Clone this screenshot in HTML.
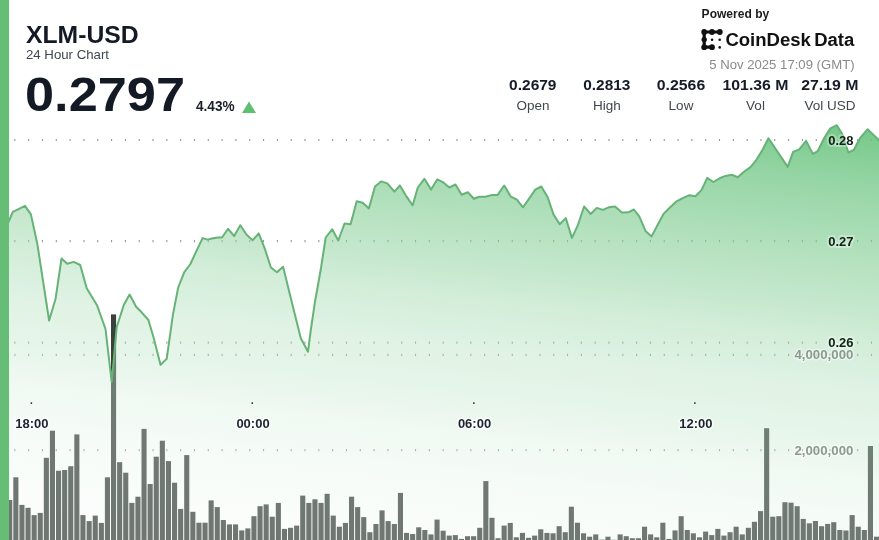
<!DOCTYPE html>
<html><head><meta charset="utf-8">
<style>
html,body{margin:0;padding:0;background:#fff;}
body{width:879px;height:540px;overflow:hidden;position:relative;font-family:"Liberation Sans",sans-serif;}
svg{position:absolute;left:0;top:0;display:block;will-change:transform;}
text{font-family:"Liberation Sans",sans-serif;}
</style></head>
<body>
<svg width="879" height="540" viewBox="0 0 879 540">
<defs>
<linearGradient id="g" gradientUnits="userSpaceOnUse" x1="840" y1="120" x2="787.2" y2="600"><stop offset="0" stop-color="rgb(92,190,115)" stop-opacity="0.86"/><stop offset="0.047" stop-color="rgb(92,190,115)" stop-opacity="0.78"/><stop offset="0.128" stop-color="rgb(92,190,115)" stop-opacity="0.644"/><stop offset="0.278" stop-color="rgb(92,190,115)" stop-opacity="0.466"/><stop offset="0.377" stop-color="rgb(92,190,115)" stop-opacity="0.362"/><stop offset="0.445" stop-color="rgb(92,190,115)" stop-opacity="0.28"/><stop offset="0.554" stop-color="rgb(92,190,115)" stop-opacity="0.19"/><stop offset="0.648" stop-color="rgb(92,190,115)" stop-opacity="0.15"/><stop offset="0.739" stop-color="rgb(92,190,115)" stop-opacity="0.086"/><stop offset="0.85" stop-color="rgb(92,190,115)" stop-opacity="0.05"/><stop offset="1.0" stop-color="rgb(92,190,115)" stop-opacity="0.02"/></linearGradient>
</defs>
<rect x="0" y="0" width="879" height="540" fill="#fff"/>
<g stroke="#979797" stroke-width="2.2" stroke-dasharray="1.1 12.717" fill="none"><line x1="14.3" y1="140" x2="879" y2="140"/><line x1="14.3" y1="241.2" x2="879" y2="241.2"/><line x1="14.3" y1="342.7" x2="879" y2="342.7"/><line x1="14.3" y1="354.8" x2="879" y2="354.8"/><line x1="14.3" y1="450.2" x2="879" y2="450.2"/></g>
<g fill="#3a403c"><rect x="7.2" y="500" width="5.1" height="41"/><rect x="13.3" y="477.3" width="5.1" height="63.7"/><rect x="19.4" y="504.9" width="5.1" height="36.1"/><rect x="25.5" y="507.8" width="5.1" height="33.2"/><rect x="31.6" y="515.1" width="5.1" height="25.9"/><rect x="37.7" y="512.9" width="5.1" height="28.1"/><rect x="43.8" y="457.8" width="5.1" height="83.2"/><rect x="49.9" y="430.7" width="5.1" height="110.3"/><rect x="56" y="470.7" width="5.1" height="70.3"/><rect x="62.1" y="470" width="5.1" height="71"/><rect x="68.2" y="466.2" width="5.1" height="74.8"/><rect x="74.3" y="434.4" width="5.1" height="106.6"/><rect x="80.4" y="515.1" width="5.1" height="25.9"/><rect x="86.6" y="521.1" width="5.1" height="19.9"/><rect x="92.7" y="515.6" width="5.1" height="25.4"/><rect x="98.8" y="522.9" width="5.1" height="18.1"/><rect x="104.9" y="477.3" width="5.1" height="63.7"/><rect x="111" y="314.4" width="5.1" height="226.6"/><rect x="117.1" y="462.2" width="5.1" height="78.8"/><rect x="123.2" y="472.7" width="5.1" height="68.3"/><rect x="129.3" y="502.9" width="5.1" height="38.1"/><rect x="135.4" y="496.7" width="5.1" height="44.3"/><rect x="141.5" y="428.9" width="5.1" height="112.1"/><rect x="147.6" y="484" width="5.1" height="57"/><rect x="153.7" y="456.7" width="5.1" height="84.3"/><rect x="159.8" y="440.7" width="5.1" height="100.3"/><rect x="165.9" y="461.1" width="5.1" height="79.9"/><rect x="172" y="482.7" width="5.1" height="58.3"/><rect x="178.1" y="508.9" width="5.1" height="32.1"/><rect x="184.2" y="455.1" width="5.1" height="85.9"/><rect x="190.3" y="511.8" width="5.1" height="29.2"/><rect x="196.4" y="522.7" width="5.1" height="18.3"/><rect x="202.5" y="522.7" width="5.1" height="18.3"/><rect x="208.6" y="500.4" width="5.1" height="40.6"/><rect x="214.7" y="507.1" width="5.1" height="33.9"/><rect x="220.8" y="520" width="5.1" height="21"/><rect x="226.9" y="524.4" width="5.1" height="16.6"/><rect x="233" y="524.4" width="5.1" height="16.6"/><rect x="239.2" y="530.4" width="5.1" height="10.6"/><rect x="245.3" y="528.4" width="5.1" height="12.6"/><rect x="251.4" y="516.2" width="5.1" height="24.8"/><rect x="257.5" y="506.2" width="5.1" height="34.8"/><rect x="263.6" y="504.4" width="5.1" height="36.6"/><rect x="269.7" y="516.7" width="5.1" height="24.3"/><rect x="275.8" y="502.9" width="5.1" height="38.1"/><rect x="281.9" y="528.9" width="5.1" height="12.1"/><rect x="288" y="527.8" width="5.1" height="13.2"/><rect x="294.1" y="525.6" width="5.1" height="15.4"/><rect x="300.2" y="495.6" width="5.1" height="45.4"/><rect x="306.3" y="502.9" width="5.1" height="38.1"/><rect x="312.4" y="499.3" width="5.1" height="41.7"/><rect x="318.5" y="502.9" width="5.1" height="38.1"/><rect x="324.6" y="493.8" width="5.1" height="47.2"/><rect x="330.7" y="515.6" width="5.1" height="25.4"/><rect x="336.8" y="526.7" width="5.1" height="14.3"/><rect x="342.9" y="522.9" width="5.1" height="18.1"/><rect x="349" y="496.7" width="5.1" height="44.3"/><rect x="355.1" y="507.1" width="5.1" height="33.9"/><rect x="361.2" y="517.1" width="5.1" height="23.9"/><rect x="367.3" y="532.2" width="5.1" height="8.8"/><rect x="373.4" y="524" width="5.1" height="17"/><rect x="379.5" y="510.4" width="5.1" height="30.6"/><rect x="385.6" y="521.1" width="5.1" height="19.9"/><rect x="391.8" y="524" width="5.1" height="17"/><rect x="397.9" y="492.9" width="5.1" height="48.1"/><rect x="404" y="532.9" width="5.1" height="8.1"/><rect x="410.1" y="534" width="5.1" height="7"/><rect x="416.2" y="527.3" width="5.1" height="13.7"/><rect x="422.3" y="530" width="5.1" height="11"/><rect x="428.4" y="534.4" width="5.1" height="6.6"/><rect x="434.5" y="519.6" width="5.1" height="21.4"/><rect x="440.6" y="530.7" width="5.1" height="10.3"/><rect x="446.7" y="535.6" width="5.1" height="5.4"/><rect x="452.8" y="535.1" width="5.1" height="5.9"/><rect x="458.9" y="538.9" width="5.1" height="2.1"/><rect x="465" y="536.2" width="5.1" height="4.8"/><rect x="471.1" y="536.2" width="5.1" height="4.8"/><rect x="477.2" y="527.8" width="5.1" height="13.2"/><rect x="483.3" y="481.1" width="5.1" height="59.9"/><rect x="489.4" y="517.8" width="5.1" height="23.2"/><rect x="495.5" y="538.2" width="5.1" height="2.8"/><rect x="501.6" y="525.6" width="5.1" height="15.4"/><rect x="507.7" y="522.9" width="5.1" height="18.1"/><rect x="513.8" y="537.3" width="5.1" height="3.7"/><rect x="519.9" y="532.9" width="5.1" height="8.1"/><rect x="526" y="537.8" width="5.1" height="3.2"/><rect x="532.1" y="535.6" width="5.1" height="5.4"/><rect x="538.2" y="529.3" width="5.1" height="11.7"/><rect x="544.4" y="532.9" width="5.1" height="8.1"/><rect x="550.5" y="533.3" width="5.1" height="7.7"/><rect x="556.6" y="526.2" width="5.1" height="14.8"/><rect x="562.7" y="532.2" width="5.1" height="8.8"/><rect x="568.8" y="506.7" width="5.1" height="34.3"/><rect x="574.9" y="522.7" width="5.1" height="18.3"/><rect x="581" y="533.3" width="5.1" height="7.7"/><rect x="587.1" y="536.7" width="5.1" height="4.3"/><rect x="593.2" y="534.4" width="5.1" height="6.6"/><rect x="599.3" y="539.6" width="5.1" height="1.4"/><rect x="605.4" y="536.7" width="5.1" height="4.3"/><rect x="611.5" y="539.8" width="5.1" height="1.2"/><rect x="617.6" y="534.4" width="5.1" height="6.6"/><rect x="623.7" y="536.2" width="5.1" height="4.8"/><rect x="629.8" y="538.2" width="5.1" height="2.8"/><rect x="635.9" y="538.2" width="5.1" height="2.8"/><rect x="642" y="526.7" width="5.1" height="14.3"/><rect x="648.1" y="534.4" width="5.1" height="6.6"/><rect x="654.2" y="537.3" width="5.1" height="3.7"/><rect x="660.3" y="522.7" width="5.1" height="18.3"/><rect x="666.4" y="538.9" width="5.1" height="2.1"/><rect x="672.5" y="530.4" width="5.1" height="10.6"/><rect x="678.6" y="516.2" width="5.1" height="24.8"/><rect x="684.7" y="530" width="5.1" height="11"/><rect x="690.8" y="533.3" width="5.1" height="7.7"/><rect x="697" y="537.3" width="5.1" height="3.7"/><rect x="703.1" y="531.6" width="5.1" height="9.4"/><rect x="709.2" y="535.1" width="5.1" height="5.9"/><rect x="715.3" y="528.9" width="5.1" height="12.1"/><rect x="721.4" y="535.6" width="5.1" height="5.4"/><rect x="727.5" y="532.2" width="5.1" height="8.8"/><rect x="733.6" y="526.7" width="5.1" height="14.3"/><rect x="739.7" y="534.4" width="5.1" height="6.6"/><rect x="745.8" y="527.8" width="5.1" height="13.2"/><rect x="751.9" y="521.8" width="5.1" height="19.2"/><rect x="758" y="511.1" width="5.1" height="29.9"/><rect x="764.1" y="428.2" width="5.1" height="112.8"/><rect x="770.2" y="516.7" width="5.1" height="24.3"/><rect x="776.3" y="516.2" width="5.1" height="24.8"/><rect x="782.4" y="502.2" width="5.1" height="38.8"/><rect x="788.5" y="502.7" width="5.1" height="38.3"/><rect x="794.6" y="506.2" width="5.1" height="34.8"/><rect x="800.7" y="518.9" width="5.1" height="22.1"/><rect x="806.8" y="523.3" width="5.1" height="17.7"/><rect x="812.9" y="521" width="5.1" height="20"/><rect x="819" y="526.2" width="5.1" height="14.8"/><rect x="825.1" y="523.9" width="5.1" height="17.1"/><rect x="831.2" y="522.2" width="5.1" height="18.8"/><rect x="837.3" y="530" width="5.1" height="11"/><rect x="843.4" y="530.5" width="5.1" height="10.5"/><rect x="849.6" y="515.1" width="5.1" height="25.9"/><rect x="855.7" y="526.7" width="5.1" height="14.3"/><rect x="861.8" y="530" width="5.1" height="11"/><rect x="867.9" y="446" width="5.1" height="95"/><rect x="874" y="536.7" width="5.1" height="4.3"/></g>
<path d="M8.5 222 L12.8 211.9 L18 209.3 L25 205.9 L30.9 214.4 L37.4 244.3 L49.1 320.5 L55.6 298.7 L61.5 258.5 L67.2 263.7 L73.7 261.9 L80.2 265 L86.7 288.3 L97 305.2 L105.5 329 L111.7 382 L116.7 327 L123.9 304.7 L129.6 294.5 L136.1 306.7 L141.2 311.8 L148.4 320 L153.5 337.3 L160.6 364.9 L166.7 358.8 L172.9 314.9 L178.2 287.5 L184.3 272.2 L190.4 264 L196.5 250.8 L202.6 238.1 L207.7 239.6 L211.8 238.5 L217.9 237.5 L222 237.5 L228.1 228.8 L234.2 236.1 L240.3 225.3 L246.4 234.5 L252.6 240.2 L258.7 233.4 L264.8 248.7 L270.9 267.5 L277 272.2 L283.1 266.7 L291.7 301.7 L300.8 338.3 L308 351.7 L310.8 330 L315 301.7 L321 268 L325.7 237.5 L332.2 229.3 L338.3 240.5 L344.5 223.6 L350.6 224.2 L356.7 201.2 L362.8 202.8 L368.9 208.5 L375 186.5 L381.1 181.4 L387.3 183.4 L394.4 191.6 L399.9 185.5 L406.6 196.7 L412.7 205.3 L417.8 187.5 L424.4 178.8 L431.1 189.6 L437.2 179.4 L443.3 182.4 L449.4 187.5 L455.5 184.5 L461.7 194.7 L467.8 192.2 L473.9 198.7 L479.2 196.7 L485.3 196.7 L491.4 195.1 L497.5 195.1 L504.2 185.5 L510.8 196.7 L516.9 199.7 L523 207.3 L529.1 198.7 L535.2 189.6 L541.3 186.5 L547.5 196.7 L553.6 214.6 L559.7 224.2 L565.8 218.1 L571.9 237.9 L578 224.8 L584.1 206.5 L590.7 214 L596.8 207.9 L602.9 209.9 L608.6 207.3 L615.1 206.5 L621.9 212.6 L625.1 212.6 L629.2 211.9 L633.9 209.5 L639.4 216.6 L645.5 230.9 L651.6 236.4 L657.7 224.8 L663.8 213.6 L669.9 207.5 L676.1 201.7 L682.2 198.3 L689.3 195.2 L695.4 196.2 L701.5 190.1 L707.2 177.9 L713.4 182 L719.5 178.3 L725.6 175.9 L731.7 174.8 L737.8 177.3 L743.9 171.8 L750.5 167.1 L756.6 159.6 L762.7 149.4 L768.5 138.3 L787.7 166.9 L793.1 151.9 L799.3 149.4 L806.1 140.9 L812.9 153.9 L817.7 151.2 L824.5 137.5 L830 128.7 L836.8 125.2 L842.3 134.1 L848.4 152.5 L853.9 149.8 L860 138.2 L867.5 129.3 L880 141 L880 541 L9 541 Z" fill="#fff" fill-opacity="0.28"/>
<path d="M8.5 222 L12.8 211.9 L18 209.3 L25 205.9 L30.9 214.4 L37.4 244.3 L49.1 320.5 L55.6 298.7 L61.5 258.5 L67.2 263.7 L73.7 261.9 L80.2 265 L86.7 288.3 L97 305.2 L105.5 329 L111.7 382 L116.7 327 L123.9 304.7 L129.6 294.5 L136.1 306.7 L141.2 311.8 L148.4 320 L153.5 337.3 L160.6 364.9 L166.7 358.8 L172.9 314.9 L178.2 287.5 L184.3 272.2 L190.4 264 L196.5 250.8 L202.6 238.1 L207.7 239.6 L211.8 238.5 L217.9 237.5 L222 237.5 L228.1 228.8 L234.2 236.1 L240.3 225.3 L246.4 234.5 L252.6 240.2 L258.7 233.4 L264.8 248.7 L270.9 267.5 L277 272.2 L283.1 266.7 L291.7 301.7 L300.8 338.3 L308 351.7 L310.8 330 L315 301.7 L321 268 L325.7 237.5 L332.2 229.3 L338.3 240.5 L344.5 223.6 L350.6 224.2 L356.7 201.2 L362.8 202.8 L368.9 208.5 L375 186.5 L381.1 181.4 L387.3 183.4 L394.4 191.6 L399.9 185.5 L406.6 196.7 L412.7 205.3 L417.8 187.5 L424.4 178.8 L431.1 189.6 L437.2 179.4 L443.3 182.4 L449.4 187.5 L455.5 184.5 L461.7 194.7 L467.8 192.2 L473.9 198.7 L479.2 196.7 L485.3 196.7 L491.4 195.1 L497.5 195.1 L504.2 185.5 L510.8 196.7 L516.9 199.7 L523 207.3 L529.1 198.7 L535.2 189.6 L541.3 186.5 L547.5 196.7 L553.6 214.6 L559.7 224.2 L565.8 218.1 L571.9 237.9 L578 224.8 L584.1 206.5 L590.7 214 L596.8 207.9 L602.9 209.9 L608.6 207.3 L615.1 206.5 L621.9 212.6 L625.1 212.6 L629.2 211.9 L633.9 209.5 L639.4 216.6 L645.5 230.9 L651.6 236.4 L657.7 224.8 L663.8 213.6 L669.9 207.5 L676.1 201.7 L682.2 198.3 L689.3 195.2 L695.4 196.2 L701.5 190.1 L707.2 177.9 L713.4 182 L719.5 178.3 L725.6 175.9 L731.7 174.8 L737.8 177.3 L743.9 171.8 L750.5 167.1 L756.6 159.6 L762.7 149.4 L768.5 138.3 L787.7 166.9 L793.1 151.9 L799.3 149.4 L806.1 140.9 L812.9 153.9 L817.7 151.2 L824.5 137.5 L830 128.7 L836.8 125.2 L842.3 134.1 L848.4 152.5 L853.9 149.8 L860 138.2 L867.5 129.3 L880 141 L880 541 L9 541 Z" fill="url(#g)"/>
<path d="M8.5 222 L12.8 211.9 L18 209.3 L25 205.9 L30.9 214.4 L37.4 244.3 L49.1 320.5 L55.6 298.7 L61.5 258.5 L67.2 263.7 L73.7 261.9 L80.2 265 L86.7 288.3 L97 305.2 L105.5 329 L111.7 382 L116.7 327 L123.9 304.7 L129.6 294.5 L136.1 306.7 L141.2 311.8 L148.4 320 L153.5 337.3 L160.6 364.9 L166.7 358.8 L172.9 314.9 L178.2 287.5 L184.3 272.2 L190.4 264 L196.5 250.8 L202.6 238.1 L207.7 239.6 L211.8 238.5 L217.9 237.5 L222 237.5 L228.1 228.8 L234.2 236.1 L240.3 225.3 L246.4 234.5 L252.6 240.2 L258.7 233.4 L264.8 248.7 L270.9 267.5 L277 272.2 L283.1 266.7 L291.7 301.7 L300.8 338.3 L308 351.7 L310.8 330 L315 301.7 L321 268 L325.7 237.5 L332.2 229.3 L338.3 240.5 L344.5 223.6 L350.6 224.2 L356.7 201.2 L362.8 202.8 L368.9 208.5 L375 186.5 L381.1 181.4 L387.3 183.4 L394.4 191.6 L399.9 185.5 L406.6 196.7 L412.7 205.3 L417.8 187.5 L424.4 178.8 L431.1 189.6 L437.2 179.4 L443.3 182.4 L449.4 187.5 L455.5 184.5 L461.7 194.7 L467.8 192.2 L473.9 198.7 L479.2 196.7 L485.3 196.7 L491.4 195.1 L497.5 195.1 L504.2 185.5 L510.8 196.7 L516.9 199.7 L523 207.3 L529.1 198.7 L535.2 189.6 L541.3 186.5 L547.5 196.7 L553.6 214.6 L559.7 224.2 L565.8 218.1 L571.9 237.9 L578 224.8 L584.1 206.5 L590.7 214 L596.8 207.9 L602.9 209.9 L608.6 207.3 L615.1 206.5 L621.9 212.6 L625.1 212.6 L629.2 211.9 L633.9 209.5 L639.4 216.6 L645.5 230.9 L651.6 236.4 L657.7 224.8 L663.8 213.6 L669.9 207.5 L676.1 201.7 L682.2 198.3 L689.3 195.2 L695.4 196.2 L701.5 190.1 L707.2 177.9 L713.4 182 L719.5 178.3 L725.6 175.9 L731.7 174.8 L737.8 177.3 L743.9 171.8 L750.5 167.1 L756.6 159.6 L762.7 149.4 L768.5 138.3 L787.7 166.9 L793.1 151.9 L799.3 149.4 L806.1 140.9 L812.9 153.9 L817.7 151.2 L824.5 137.5 L830 128.7 L836.8 125.2 L842.3 134.1 L848.4 152.5 L853.9 149.8 L860 138.2 L867.5 129.3 L880 141" fill="none" stroke="#66b277" stroke-width="2" stroke-linejoin="round"/>
<g font-size="13" font-weight="bold" fill="#0f2216" text-anchor="end" stroke="rgba(255,255,255,0.3)" stroke-width="4" paint-order="stroke" stroke-linejoin="round">
<text x="853.5" y="145.2">0.28</text>
<text x="853.5" y="246.2">0.27</text>
<text x="853.5" y="347.1">0.26</text>
</g>
<g font-size="12.5" font-weight="bold" fill="#8d9a8f" text-anchor="end" stroke="rgba(255,255,255,0.4)" stroke-width="3" paint-order="stroke" stroke-linejoin="round">
<text x="853.4" y="359.4" textLength="59" lengthAdjust="spacingAndGlyphs">4,000,000</text>
<text x="853.4" y="454.6" textLength="59" lengthAdjust="spacingAndGlyphs">2,000,000</text>
</g>
<g fill="#2a2a2a">
<rect x="30.6" y="402.3" width="1.5" height="1.6"/>
<rect x="251.5" y="402.3" width="1.5" height="1.6"/>
<rect x="473.1" y="402.3" width="1.5" height="1.6"/>
<rect x="694.1" y="402.3" width="1.5" height="1.6"/>
</g>
<g font-size="13" font-weight="bold" fill="#1d2430" text-anchor="middle" stroke="rgba(255,255,255,0.6)" stroke-width="3" paint-order="stroke" stroke-linejoin="round">
<text x="31.8" y="428.4">18:00</text>
<text x="253" y="428.4">00:00</text>
<text x="474.5" y="428.4">06:00</text>
<text x="695.8" y="428.4">12:00</text>
</g>
<rect x="0" y="0" width="9" height="540" fill="#66bd76"/>
<text x="26" y="43.1" font-size="24" font-weight="bold" fill="#131a26" textLength="112.6" lengthAdjust="spacingAndGlyphs">XLM-USD</text>
<text x="26" y="59" font-size="13" fill="#41474f" textLength="83" lengthAdjust="spacingAndGlyphs">24 Hour Chart</text>
<text x="25" y="111" font-size="49" font-weight="bold" fill="#131a26" textLength="160" lengthAdjust="spacingAndGlyphs">0.2797</text>
<text x="196" y="111" font-size="14" font-weight="bold" fill="#1c2028" textLength="38.6" lengthAdjust="spacingAndGlyphs">4.43%</text>
<polygon points="242,113 256,113 249,101.4" fill="#5fbf71"/>
<g font-size="14" font-weight="bold" fill="#151c28" text-anchor="middle">
<text x="532.8" y="90.1" textLength="47.4" lengthAdjust="spacingAndGlyphs">0.2679</text>
<text x="606.8" y="90.1" textLength="47.2" lengthAdjust="spacingAndGlyphs">0.2813</text>
<text x="681" y="90.1" textLength="48.4" lengthAdjust="spacingAndGlyphs">0.2566</text>
<text x="755.5" y="90.1" textLength="66" lengthAdjust="spacingAndGlyphs">101.36 M</text>
<text x="829.8" y="90.1" textLength="57.3" lengthAdjust="spacingAndGlyphs">27.19 M</text>
</g>
<g font-size="13.5" fill="#41474f" text-anchor="middle">
<text x="533" y="109.7">Open</text>
<text x="607" y="109.7">High</text>
<text x="681" y="109.7">Low</text>
<text x="755.5" y="109.7">Vol</text>
<text x="830" y="109.7">Vol USD</text>
</g>
<text x="854.6" y="69.3" font-size="13" fill="#8a8a8a" text-anchor="end" textLength="145.4" lengthAdjust="spacingAndGlyphs">5 Nov 2025 17:09 (GMT)</text>
<text x="701.6" y="18.3" font-size="12.5" font-weight="bold" fill="#1c1c1c" textLength="67.6" lengthAdjust="spacingAndGlyphs">Powered by</text>
<g fill="#111" stroke="#111">
<path d="M704.2 32 L719.8 32 M704.2 32 L704.2 47.2 L712 47.2" stroke-width="3.2" fill="none" stroke-linecap="round"/>
<circle cx="704.2" cy="32" r="2.9" stroke="none"/><circle cx="712" cy="32" r="2.9" stroke="none"/><circle cx="719.8" cy="32" r="2.9" stroke="none"/>
<circle cx="704.2" cy="39.6" r="2.7" stroke="none"/><circle cx="704.2" cy="47.2" r="2.9" stroke="none"/><circle cx="712" cy="47.2" r="2.9" stroke="none"/>
<circle cx="712.1" cy="39.7" r="1.3" stroke="none"/><circle cx="719.7" cy="39.7" r="1.3" stroke="none"/><circle cx="719.7" cy="47.4" r="1.3" stroke="none"/>
</g>
<g font-size="17.5" font-weight="bold" fill="#111">
<text x="725.4" y="45.6" textLength="85.5" lengthAdjust="spacingAndGlyphs">CoinDesk</text>
<text x="814.2" y="45.6" textLength="40" lengthAdjust="spacingAndGlyphs">Data</text>
</g>
</svg>
</body></html>
